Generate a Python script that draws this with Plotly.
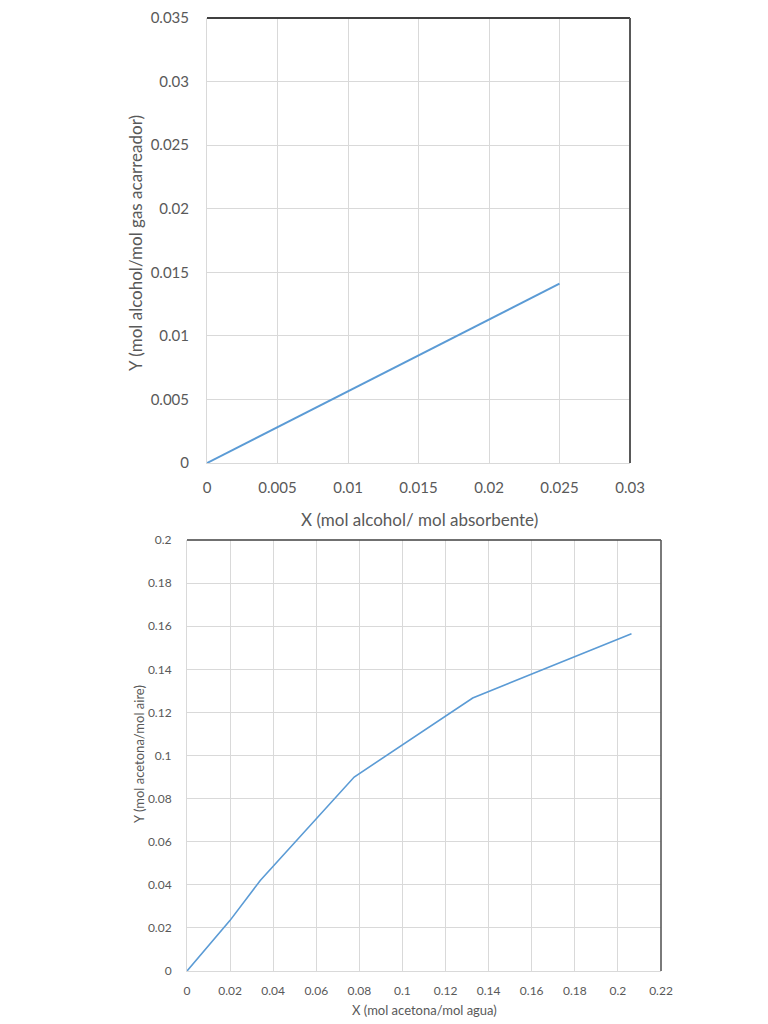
import plotly.graph_objects as go

# Top chart: alcohol absorption
x_alcohol = [0.0, 0.005, 0.01, 0.015, 0.02, 0.025]
y_alcohol = [0.0, 0.00282, 0.00564, 0.00846, 0.01128, 0.0141]

# Bottom chart: acetone absorption
x_acetona = [0.0, 0.02, 0.034, 0.0776, 0.1326, 0.2063]
y_acetona = [0.0, 0.0235, 0.042, 0.0900, 0.1267, 0.1565]

top_xticks = [0, 0.005, 0.01, 0.015, 0.02, 0.025, 0.03]
top_yticks = [0, 0.005, 0.01, 0.015, 0.02, 0.025, 0.03, 0.035]
bot_xticks = [0, 0.02, 0.04, 0.06, 0.08, 0.1, 0.12, 0.14, 0.16, 0.18, 0.2, 0.22]
bot_yticks = [0, 0.02, 0.04, 0.06, 0.08, 0.1, 0.12, 0.14, 0.16, 0.18, 0.2]

BLUE = "#5b9bd5"
GRID = "#d9d9d9"
TXT = "#595959"
FONT = "Lato"

W, H = 768, 1024
def px(x): return x / W
def py(y): return 1 - y / H

fig = go.Figure()
fig.add_trace(go.Scatter(x=x_alcohol, y=y_alcohol, mode="lines",
                         line=dict(color=BLUE, width=2), xaxis="x", yaxis="y",
                         showlegend=False, hoverinfo="skip"))
fig.add_trace(go.Scatter(x=x_acetona, y=y_acetona, mode="lines",
                         line=dict(color=BLUE, width=1.6), xaxis="x2", yaxis="y2",
                         showlegend=False, hoverinfo="skip"))

def fmt(v):
    s = ("%.3f" % v).rstrip("0").rstrip(".")
    return s if s else "0"

common = dict(showgrid=True, gridcolor=GRID, gridwidth=1, zeroline=False,
              showline=True, linecolor=GRID, linewidth=1, ticks="", automargin=False)

fig.update_layout(
    template="none",
    width=W, height=H, margin=dict(l=0, r=0, t=0, b=0, pad=0), autosize=False,
    paper_bgcolor="white", plot_bgcolor="white",
    font=dict(family=FONT, color=TXT),
    xaxis=dict(domain=[px(207), px(630)], range=[0, 0.03], anchor="y",
               tickvals=top_xticks, ticktext=[fmt(v) for v in top_xticks],
               tickfont=dict(size=15, color=TXT), ticklabelstandoff=11, **common),
    yaxis=dict(domain=[py(463), py(18)], range=[0, 0.035], anchor="x",
               tickvals=top_yticks, ticktext=[fmt(v) for v in top_yticks],
               tickfont=dict(size=15, color=TXT), ticklabelstandoff=14, **common),
    xaxis2=dict(domain=[px(187), px(661)], range=[0, 0.22], anchor="y2",
                tickvals=bot_xticks, ticktext=[fmt(v) for v in bot_xticks],
                tickfont=dict(size=12, color=TXT), ticklabelstandoff=9, **common),
    yaxis2=dict(domain=[py(971), py(540)], range=[0, 0.2], anchor="x2",
                tickvals=bot_yticks, ticktext=[fmt(v) for v in bot_yticks],
                tickfont=dict(size=12, color=TXT), ticklabelstandoff=12, **common),
)

# dark top/right plot-area borders
for xr, yr, w in (("x domain", "y domain", 2), ("x2 domain", "y2 domain", 1.6)):
    fig.add_shape(type="line", xref=xr, yref=yr, x0=0, x1=1, y0=1, y1=1,
                  line=dict(color="#404040", width=w))
    fig.add_shape(type="line", xref=xr, yref=yr, x0=1, x1=1, y0=0, y1=1,
                  line=dict(color="#595959", width=w))

ann = dict(xref="paper", yref="paper", showarrow=False, xanchor="center", yanchor="middle")
fig.add_annotation(text="X (mol alcohol/ mol absorbente)", x=px(419), y=py(519),
                   font=dict(size=17, color=TXT), **ann)
fig.add_annotation(text="Y (mol alcohol/mol gas acarreador)", x=px(135), y=py(243),
                   textangle=-90, font=dict(size=17, color=TXT), **ann)
fig.add_annotation(text="X (mol acetona/mol agua)", x=px(424), y=py(1010),
                   font=dict(size=13, color=TXT), **ann)
fig.add_annotation(text="Y (mol acetona/mol aire)", x=px(139), y=py(754),
                   textangle=-90, font=dict(size=13, color=TXT), **ann)

fig.write_html("out.html")
